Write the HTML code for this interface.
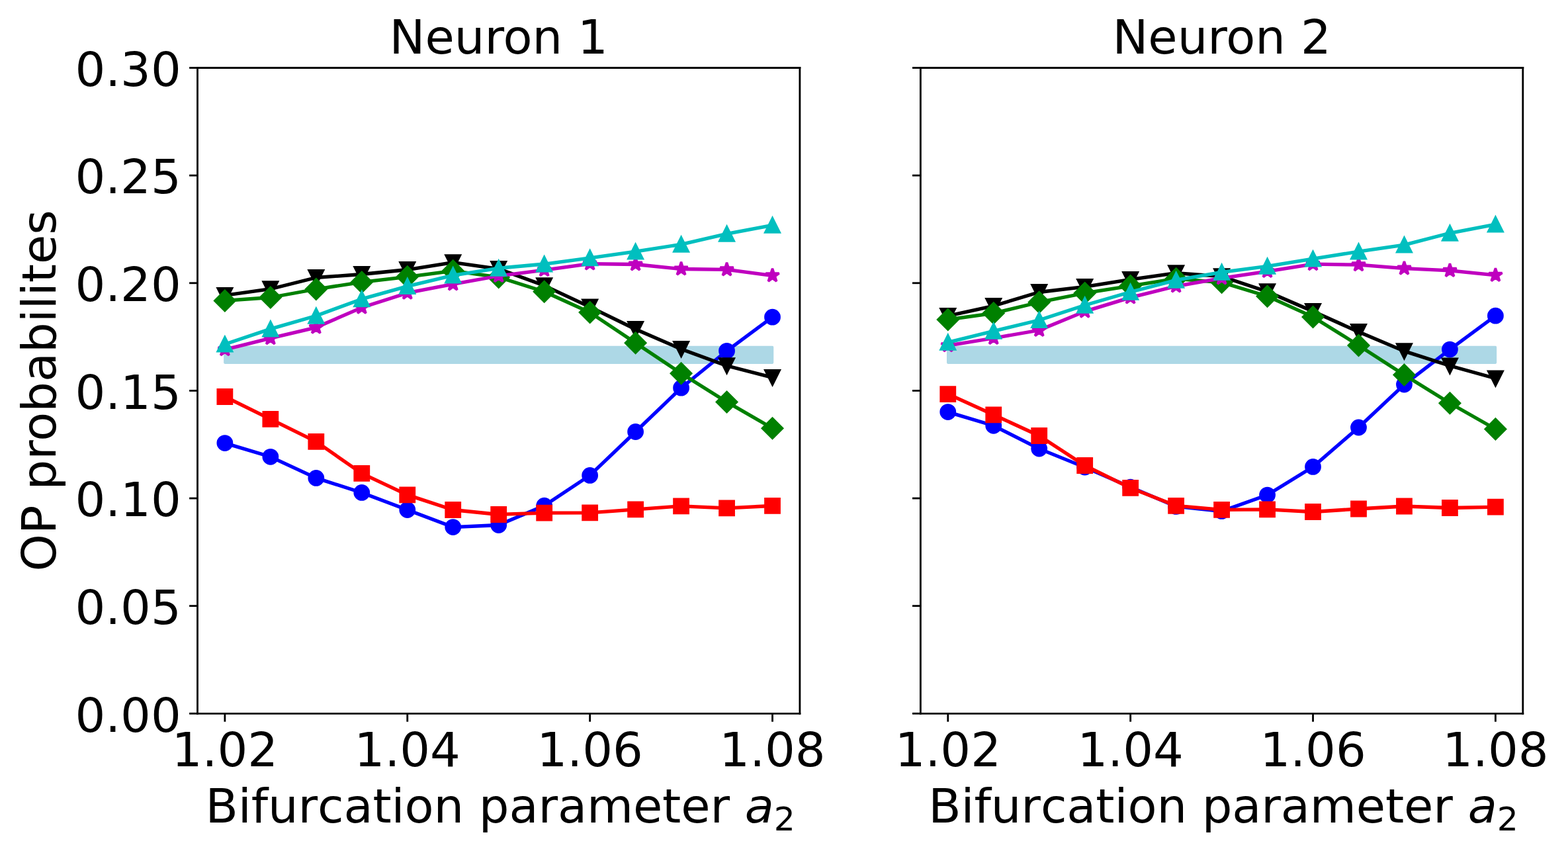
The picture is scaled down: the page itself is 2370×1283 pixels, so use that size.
<!DOCTYPE html>
<html><head><meta charset="utf-8"><title>OP probabilities</title>
<style>html,body{margin:0;padding:0;background:#fff;width:2370px;height:1283px;overflow:hidden}svg{display:block}svg *{stroke-linejoin:round;stroke-linecap:butt}</style>
</head><body>
<svg width="2370" height="1283" viewBox="0 0 2370 1283" version="1.1"><g><g><path d="M 0 1283 L 2370 1283 L 2370 0 L 0 0 z" style="fill: #ffffff" /></g><g><g><path d="M 298.5 1078.3 L 1208.9 1078.3 L 1208.9 102.5 L 298.5 102.5 z" style="fill: #ffffff" /></g><g><g><path d="M 339.881818 -758.36892 L 339.881818 -734.884667 L 1167.518182 -734.884667 L 1167.518182 -758.36892 L 1167.518182 -758.36892 L 339.881818 -758.36892 z" transform="translate(0 1283)" style="fill: #add8e6; stroke: #add8e6; stroke-width: 3.54" /></g></g><g><g><g><g><path d="M 0 0 L 0 12.39" transform="translate(339.882 1078.3)" style="stroke: #000000; stroke-width: 2.832" /></g></g><g><text style="font-size: 72px; font-family: 'DejaVu Sans', 'Liberation Sans', sans-serif; text-anchor: middle" x="339.881818" y="1158.24">1.02</text></g></g><g><g><g><path d="M 0 0 L 0 12.39" transform="translate(615.761 1078.3)" style="stroke: #000000; stroke-width: 2.832" /></g></g><g><text style="font-size: 72px; font-family: 'DejaVu Sans', 'Liberation Sans', sans-serif; text-anchor: middle" x="615.760606" y="1158.24">1.04</text></g></g><g><g><g><path d="M 0 0 L 0 12.39" transform="translate(891.639 1078.3)" style="stroke: #000000; stroke-width: 2.832" /></g></g><g><text style="font-size: 72px; font-family: 'DejaVu Sans', 'Liberation Sans', sans-serif; text-anchor: middle" x="891.639394" y="1158.24">1.06</text></g></g><g><g><g><path d="M 0 0 L 0 12.39" transform="translate(1167.52 1078.3)" style="stroke: #000000; stroke-width: 2.832" /></g></g><g><text style="font-size: 72px; font-family: 'DejaVu Sans', 'Liberation Sans', sans-serif; text-anchor: middle" x="1167.518182" y="1158.24">1.08</text></g></g><g><text style="font-size: 72px; font-family: 'DejaVu Sans', 'Liberation Sans', sans-serif" x="310.46 359.72 379.67 404.95 450.46 479.98 519.46 563.46 591.62 611.57 655.50 701.01 723.84 769.42 813.42 842.94 886.94 956.89 1001.07 1029.22 1073.40 1102.92" y="1243.35">Bifurcation parameter <tspan x="1125.75" style="font-style: oblique">a</tspan><tspan x="1169.87" y="1255.16" style="font-size: 50.4px">2</tspan></text></g></g><g><g><g><g><path d="M 0 0 L -12.39 0" transform="translate(298.5 1078.3)" style="stroke: #000000; stroke-width: 2.832" /></g></g><g><text style="font-size: 72px; font-family: 'DejaVu Sans', 'Liberation Sans', sans-serif; text-anchor: end" x="273.72" y="1105.654375">0.00</text></g></g><g><g><g><path d="M 0 0 L -12.39 0" transform="translate(298.5 915.667)" style="stroke: #000000; stroke-width: 2.832" /></g></g><g><text style="font-size: 72px; font-family: 'DejaVu Sans', 'Liberation Sans', sans-serif; text-anchor: end" x="273.72" y="943.021042">0.05</text></g></g><g><g><g><path d="M 0 0 L -12.39 0" transform="translate(298.5 753.033)" style="stroke: #000000; stroke-width: 2.832" /></g></g><g><text style="font-size: 72px; font-family: 'DejaVu Sans', 'Liberation Sans', sans-serif; text-anchor: end" x="273.72" y="780.387708">0.10</text></g></g><g><g><g><path d="M 0 0 L -12.39 0" transform="translate(298.5 590.4)" style="stroke: #000000; stroke-width: 2.832" /></g></g><g><text style="font-size: 72px; font-family: 'DejaVu Sans', 'Liberation Sans', sans-serif; text-anchor: end" x="273.72" y="617.754375">0.15</text></g></g><g><g><g><path d="M 0 0 L -12.39 0" transform="translate(298.5 427.767)" style="stroke: #000000; stroke-width: 2.832" /></g></g><g><text style="font-size: 72px; font-family: 'DejaVu Sans', 'Liberation Sans', sans-serif; text-anchor: end" x="273.72" y="455.121042">0.20</text></g></g><g><g><g><path d="M 0 0 L -12.39 0" transform="translate(298.5 265.133)" style="stroke: #000000; stroke-width: 2.832" /></g></g><g><text style="font-size: 72px; font-family: 'DejaVu Sans', 'Liberation Sans', sans-serif; text-anchor: end" x="273.72" y="292.487708">0.25</text></g></g><g><g><g><path d="M 0 0 L -12.39 0" transform="translate(298.5 102.5)" style="stroke: #000000; stroke-width: 2.832" /></g></g><g><text style="font-size: 72px; font-family: 'DejaVu Sans', 'Liberation Sans', sans-serif; text-anchor: end" x="273.72" y="129.854375">0.30</text></g></g><g><text style="font-size: 72px; font-family: 'DejaVu Sans', 'Liberation Sans', sans-serif; text-anchor: middle" x="84.27375" y="590.4" transform="rotate(-90 84.27375 590.4)">OP probabilites</text></g></g><g><path d="M 339.881818 669.602433 L 408.851515 690.289393 L 477.821212 722.393213 L 546.790909 744.413767 L 615.760606 770.500153 L 684.730303 796.58654 L 753.7 793.496507 L 822.669697 764.18998 L 891.639394 718.392433 L 960.609091 652.493407 L 1029.578788 586.20406 L 1098.548485 530.29072 L 1167.518182 479.191327" style="fill: none; stroke: #0000ff; stroke-width: 5.31; stroke-linecap: square" /><g><path d="M 0 10.62 C 2.816457 10.62 5.517938 9.50101 7.509474 7.509474 C 9.50101 5.517938 10.62 2.816457 10.62 0 C 10.62 -2.816457 9.50101 -5.517938 7.509474 -7.509474 C 5.517938 -9.50101 2.816457 -10.62 0 -10.62 C -2.816457 -10.62 -5.517938 -9.50101 -7.509474 -7.509474 C -9.50101 -5.517938 -10.62 -2.816457 -10.62 0 C -10.62 2.816457 -9.50101 5.517938 -7.509474 7.509474 C -5.517938 9.50101 -2.816457 10.62 0 10.62 z" transform="translate(339.882 669.602)" style="fill: #0000ff; stroke: #0000ff; stroke-width: 3.54" /><path d="M 0 10.62 C 2.816457 10.62 5.517938 9.50101 7.509474 7.509474 C 9.50101 5.517938 10.62 2.816457 10.62 0 C 10.62 -2.816457 9.50101 -5.517938 7.509474 -7.509474 C 5.517938 -9.50101 2.816457 -10.62 0 -10.62 C -2.816457 -10.62 -5.517938 -9.50101 -7.509474 -7.509474 C -9.50101 -5.517938 -10.62 -2.816457 -10.62 0 C -10.62 2.816457 -9.50101 5.517938 -7.509474 7.509474 C -5.517938 9.50101 -2.816457 10.62 0 10.62 z" transform="translate(408.852 690.289)" style="fill: #0000ff; stroke: #0000ff; stroke-width: 3.54" /><path d="M 0 10.62 C 2.816457 10.62 5.517938 9.50101 7.509474 7.509474 C 9.50101 5.517938 10.62 2.816457 10.62 0 C 10.62 -2.816457 9.50101 -5.517938 7.509474 -7.509474 C 5.517938 -9.50101 2.816457 -10.62 0 -10.62 C -2.816457 -10.62 -5.517938 -9.50101 -7.509474 -7.509474 C -9.50101 -5.517938 -10.62 -2.816457 -10.62 0 C -10.62 2.816457 -9.50101 5.517938 -7.509474 7.509474 C -5.517938 9.50101 -2.816457 10.62 0 10.62 z" transform="translate(477.821 722.393)" style="fill: #0000ff; stroke: #0000ff; stroke-width: 3.54" /><path d="M 0 10.62 C 2.816457 10.62 5.517938 9.50101 7.509474 7.509474 C 9.50101 5.517938 10.62 2.816457 10.62 0 C 10.62 -2.816457 9.50101 -5.517938 7.509474 -7.509474 C 5.517938 -9.50101 2.816457 -10.62 0 -10.62 C -2.816457 -10.62 -5.517938 -9.50101 -7.509474 -7.509474 C -9.50101 -5.517938 -10.62 -2.816457 -10.62 0 C -10.62 2.816457 -9.50101 5.517938 -7.509474 7.509474 C -5.517938 9.50101 -2.816457 10.62 0 10.62 z" transform="translate(546.791 744.414)" style="fill: #0000ff; stroke: #0000ff; stroke-width: 3.54" /><path d="M 0 10.62 C 2.816457 10.62 5.517938 9.50101 7.509474 7.509474 C 9.50101 5.517938 10.62 2.816457 10.62 0 C 10.62 -2.816457 9.50101 -5.517938 7.509474 -7.509474 C 5.517938 -9.50101 2.816457 -10.62 0 -10.62 C -2.816457 -10.62 -5.517938 -9.50101 -7.509474 -7.509474 C -9.50101 -5.517938 -10.62 -2.816457 -10.62 0 C -10.62 2.816457 -9.50101 5.517938 -7.509474 7.509474 C -5.517938 9.50101 -2.816457 10.62 0 10.62 z" transform="translate(615.761 770.5)" style="fill: #0000ff; stroke: #0000ff; stroke-width: 3.54" /><path d="M 0 10.62 C 2.816457 10.62 5.517938 9.50101 7.509474 7.509474 C 9.50101 5.517938 10.62 2.816457 10.62 0 C 10.62 -2.816457 9.50101 -5.517938 7.509474 -7.509474 C 5.517938 -9.50101 2.816457 -10.62 0 -10.62 C -2.816457 -10.62 -5.517938 -9.50101 -7.509474 -7.509474 C -9.50101 -5.517938 -10.62 -2.816457 -10.62 0 C -10.62 2.816457 -9.50101 5.517938 -7.509474 7.509474 C -5.517938 9.50101 -2.816457 10.62 0 10.62 z" transform="translate(684.73 796.587)" style="fill: #0000ff; stroke: #0000ff; stroke-width: 3.54" /><path d="M 0 10.62 C 2.816457 10.62 5.517938 9.50101 7.509474 7.509474 C 9.50101 5.517938 10.62 2.816457 10.62 0 C 10.62 -2.816457 9.50101 -5.517938 7.509474 -7.509474 C 5.517938 -9.50101 2.816457 -10.62 0 -10.62 C -2.816457 -10.62 -5.517938 -9.50101 -7.509474 -7.509474 C -9.50101 -5.517938 -10.62 -2.816457 -10.62 0 C -10.62 2.816457 -9.50101 5.517938 -7.509474 7.509474 C -5.517938 9.50101 -2.816457 10.62 0 10.62 z" transform="translate(753.7 793.497)" style="fill: #0000ff; stroke: #0000ff; stroke-width: 3.54" /><path d="M 0 10.62 C 2.816457 10.62 5.517938 9.50101 7.509474 7.509474 C 9.50101 5.517938 10.62 2.816457 10.62 0 C 10.62 -2.816457 9.50101 -5.517938 7.509474 -7.509474 C 5.517938 -9.50101 2.816457 -10.62 0 -10.62 C -2.816457 -10.62 -5.517938 -9.50101 -7.509474 -7.509474 C -9.50101 -5.517938 -10.62 -2.816457 -10.62 0 C -10.62 2.816457 -9.50101 5.517938 -7.509474 7.509474 C -5.517938 9.50101 -2.816457 10.62 0 10.62 z" transform="translate(822.67 764.19)" style="fill: #0000ff; stroke: #0000ff; stroke-width: 3.54" /><path d="M 0 10.62 C 2.816457 10.62 5.517938 9.50101 7.509474 7.509474 C 9.50101 5.517938 10.62 2.816457 10.62 0 C 10.62 -2.816457 9.50101 -5.517938 7.509474 -7.509474 C 5.517938 -9.50101 2.816457 -10.62 0 -10.62 C -2.816457 -10.62 -5.517938 -9.50101 -7.509474 -7.509474 C -9.50101 -5.517938 -10.62 -2.816457 -10.62 0 C -10.62 2.816457 -9.50101 5.517938 -7.509474 7.509474 C -5.517938 9.50101 -2.816457 10.62 0 10.62 z" transform="translate(891.639 718.392)" style="fill: #0000ff; stroke: #0000ff; stroke-width: 3.54" /><path d="M 0 10.62 C 2.816457 10.62 5.517938 9.50101 7.509474 7.509474 C 9.50101 5.517938 10.62 2.816457 10.62 0 C 10.62 -2.816457 9.50101 -5.517938 7.509474 -7.509474 C 5.517938 -9.50101 2.816457 -10.62 0 -10.62 C -2.816457 -10.62 -5.517938 -9.50101 -7.509474 -7.509474 C -9.50101 -5.517938 -10.62 -2.816457 -10.62 0 C -10.62 2.816457 -9.50101 5.517938 -7.509474 7.509474 C -5.517938 9.50101 -2.816457 10.62 0 10.62 z" transform="translate(960.609 652.493)" style="fill: #0000ff; stroke: #0000ff; stroke-width: 3.54" /><path d="M 0 10.62 C 2.816457 10.62 5.517938 9.50101 7.509474 7.509474 C 9.50101 5.517938 10.62 2.816457 10.62 0 C 10.62 -2.816457 9.50101 -5.517938 7.509474 -7.509474 C 5.517938 -9.50101 2.816457 -10.62 0 -10.62 C -2.816457 -10.62 -5.517938 -9.50101 -7.509474 -7.509474 C -9.50101 -5.517938 -10.62 -2.816457 -10.62 0 C -10.62 2.816457 -9.50101 5.517938 -7.509474 7.509474 C -5.517938 9.50101 -2.816457 10.62 0 10.62 z" transform="translate(1029.58 586.204)" style="fill: #0000ff; stroke: #0000ff; stroke-width: 3.54" /><path d="M 0 10.62 C 2.816457 10.62 5.517938 9.50101 7.509474 7.509474 C 9.50101 5.517938 10.62 2.816457 10.62 0 C 10.62 -2.816457 9.50101 -5.517938 7.509474 -7.509474 C 5.517938 -9.50101 2.816457 -10.62 0 -10.62 C -2.816457 -10.62 -5.517938 -9.50101 -7.509474 -7.509474 C -9.50101 -5.517938 -10.62 -2.816457 -10.62 0 C -10.62 2.816457 -9.50101 5.517938 -7.509474 7.509474 C -5.517938 9.50101 -2.816457 10.62 0 10.62 z" transform="translate(1098.55 530.291)" style="fill: #0000ff; stroke: #0000ff; stroke-width: 3.54" /><path d="M 0 10.62 C 2.816457 10.62 5.517938 9.50101 7.509474 7.509474 C 9.50101 5.517938 10.62 2.816457 10.62 0 C 10.62 -2.816457 9.50101 -5.517938 7.509474 -7.509474 C 5.517938 -9.50101 2.816457 -10.62 0 -10.62 C -2.816457 -10.62 -5.517938 -9.50101 -7.509474 -7.509474 C -9.50101 -5.517938 -10.62 -2.816457 -10.62 0 C -10.62 2.816457 -9.50101 5.517938 -7.509474 7.509474 C -5.517938 9.50101 -2.816457 10.62 0 10.62 z" transform="translate(1167.52 479.191)" style="fill: #0000ff; stroke: #0000ff; stroke-width: 3.54" /></g></g><g><path d="M 339.881818 599.507467 L 408.851515 633.302673 L 477.821212 667.39062 L 546.790909 715.39998 L 615.760606 747.89412 L 684.730303 770.500153 L 753.7 777.493387 L 822.669697 775.086413 L 891.639394 774.891253 L 960.609091 769.914673 L 1029.578788 764.807987 L 1098.548485 767.80044 L 1167.518182 764.38514" style="fill: none; stroke: #ff0000; stroke-width: 5.31; stroke-linecap: square" /><g><path d="M -10.62 10.62 L 10.62 10.62 L 10.62 -10.62 L -10.62 -10.62 z" transform="translate(339.882 599.507)" style="fill: #ff0000; stroke: #ff0000; stroke-width: 3.54; stroke-linejoin: miter" /><path d="M -10.62 10.62 L 10.62 10.62 L 10.62 -10.62 L -10.62 -10.62 z" transform="translate(408.852 633.303)" style="fill: #ff0000; stroke: #ff0000; stroke-width: 3.54; stroke-linejoin: miter" /><path d="M -10.62 10.62 L 10.62 10.62 L 10.62 -10.62 L -10.62 -10.62 z" transform="translate(477.821 667.391)" style="fill: #ff0000; stroke: #ff0000; stroke-width: 3.54; stroke-linejoin: miter" /><path d="M -10.62 10.62 L 10.62 10.62 L 10.62 -10.62 L -10.62 -10.62 z" transform="translate(546.791 715.4)" style="fill: #ff0000; stroke: #ff0000; stroke-width: 3.54; stroke-linejoin: miter" /><path d="M -10.62 10.62 L 10.62 10.62 L 10.62 -10.62 L -10.62 -10.62 z" transform="translate(615.761 747.894)" style="fill: #ff0000; stroke: #ff0000; stroke-width: 3.54; stroke-linejoin: miter" /><path d="M -10.62 10.62 L 10.62 10.62 L 10.62 -10.62 L -10.62 -10.62 z" transform="translate(684.73 770.5)" style="fill: #ff0000; stroke: #ff0000; stroke-width: 3.54; stroke-linejoin: miter" /><path d="M -10.62 10.62 L 10.62 10.62 L 10.62 -10.62 L -10.62 -10.62 z" transform="translate(753.7 777.493)" style="fill: #ff0000; stroke: #ff0000; stroke-width: 3.54; stroke-linejoin: miter" /><path d="M -10.62 10.62 L 10.62 10.62 L 10.62 -10.62 L -10.62 -10.62 z" transform="translate(822.67 775.086)" style="fill: #ff0000; stroke: #ff0000; stroke-width: 3.54; stroke-linejoin: miter" /><path d="M -10.62 10.62 L 10.62 10.62 L 10.62 -10.62 L -10.62 -10.62 z" transform="translate(891.639 774.891)" style="fill: #ff0000; stroke: #ff0000; stroke-width: 3.54; stroke-linejoin: miter" /><path d="M -10.62 10.62 L 10.62 10.62 L 10.62 -10.62 L -10.62 -10.62 z" transform="translate(960.609 769.915)" style="fill: #ff0000; stroke: #ff0000; stroke-width: 3.54; stroke-linejoin: miter" /><path d="M -10.62 10.62 L 10.62 10.62 L 10.62 -10.62 L -10.62 -10.62 z" transform="translate(1029.58 764.808)" style="fill: #ff0000; stroke: #ff0000; stroke-width: 3.54; stroke-linejoin: miter" /><path d="M -10.62 10.62 L 10.62 10.62 L 10.62 -10.62 L -10.62 -10.62 z" transform="translate(1098.55 767.8)" style="fill: #ff0000; stroke: #ff0000; stroke-width: 3.54; stroke-linejoin: miter" /><path d="M -10.62 10.62 L 10.62 10.62 L 10.62 -10.62 L -10.62 -10.62 z" transform="translate(1167.52 764.385)" style="fill: #ff0000; stroke: #ff0000; stroke-width: 3.54; stroke-linejoin: miter" /></g></g><g><path d="M 339.881818 446.306867 L 408.851515 436.7115 L 477.821212 419.504893 L 546.790909 414.495787 L 615.760606 407.502553 L 684.730303 396.60612 L 753.7 406.396647 L 822.669697 431.604813 L 891.639394 463.903793 L 960.609091 497.50384 L 1029.578788 527.493427 L 1098.548485 552.701593 L 1167.518182 570.49368" style="fill: none; stroke: #000000; stroke-width: 5.31; stroke-linecap: square" /><g><path d="M -0 10.62 L 10.62 -10.62 L -10.62 -10.62 z" transform="translate(339.882 446.307)" style="stroke: #000000; stroke-width: 3.54; stroke-linejoin: miter" /><path d="M -0 10.62 L 10.62 -10.62 L -10.62 -10.62 z" transform="translate(408.852 436.712)" style="stroke: #000000; stroke-width: 3.54; stroke-linejoin: miter" /><path d="M -0 10.62 L 10.62 -10.62 L -10.62 -10.62 z" transform="translate(477.821 419.505)" style="stroke: #000000; stroke-width: 3.54; stroke-linejoin: miter" /><path d="M -0 10.62 L 10.62 -10.62 L -10.62 -10.62 z" transform="translate(546.791 414.496)" style="stroke: #000000; stroke-width: 3.54; stroke-linejoin: miter" /><path d="M -0 10.62 L 10.62 -10.62 L -10.62 -10.62 z" transform="translate(615.761 407.503)" style="stroke: #000000; stroke-width: 3.54; stroke-linejoin: miter" /><path d="M -0 10.62 L 10.62 -10.62 L -10.62 -10.62 z" transform="translate(684.73 396.606)" style="stroke: #000000; stroke-width: 3.54; stroke-linejoin: miter" /><path d="M -0 10.62 L 10.62 -10.62 L -10.62 -10.62 z" transform="translate(753.7 406.397)" style="stroke: #000000; stroke-width: 3.54; stroke-linejoin: miter" /><path d="M -0 10.62 L 10.62 -10.62 L -10.62 -10.62 z" transform="translate(822.67 431.605)" style="stroke: #000000; stroke-width: 3.54; stroke-linejoin: miter" /><path d="M -0 10.62 L 10.62 -10.62 L -10.62 -10.62 z" transform="translate(891.639 463.904)" style="stroke: #000000; stroke-width: 3.54; stroke-linejoin: miter" /><path d="M -0 10.62 L 10.62 -10.62 L -10.62 -10.62 z" transform="translate(960.609 497.504)" style="stroke: #000000; stroke-width: 3.54; stroke-linejoin: miter" /><path d="M -0 10.62 L 10.62 -10.62 L -10.62 -10.62 z" transform="translate(1029.58 527.493)" style="stroke: #000000; stroke-width: 3.54; stroke-linejoin: miter" /><path d="M -0 10.62 L 10.62 -10.62 L -10.62 -10.62 z" transform="translate(1098.55 552.702)" style="stroke: #000000; stroke-width: 3.54; stroke-linejoin: miter" /><path d="M -0 10.62 L 10.62 -10.62 L -10.62 -10.62 z" transform="translate(1167.52 570.494)" style="stroke: #000000; stroke-width: 3.54; stroke-linejoin: miter" /></g></g><g><path d="M 339.881818 454.406007 L 408.851515 449.49448 L 477.821212 437.00424 L 546.790909 426.400547 L 615.760606 418.301407 L 684.730303 409.3891 L 753.7 418.886887 L 822.669697 440.71228 L 891.639394 472.100513 L 960.609091 518.1908 L 1029.578788 564.216033 L 1098.548485 607.411447 L 1167.518182 647.19156" style="fill: none; stroke: #008000; stroke-width: 5.31; stroke-linecap: square" /><g><path d="M -0 15.018948 L 15.018948 0 L 0 -15.018948 L -15.018948 -0 z" transform="translate(339.882 454.406)" style="fill: #008000; stroke: #008000; stroke-width: 3.54; stroke-linejoin: miter" /><path d="M -0 15.018948 L 15.018948 0 L 0 -15.018948 L -15.018948 -0 z" transform="translate(408.852 449.494)" style="fill: #008000; stroke: #008000; stroke-width: 3.54; stroke-linejoin: miter" /><path d="M -0 15.018948 L 15.018948 0 L 0 -15.018948 L -15.018948 -0 z" transform="translate(477.821 437.004)" style="fill: #008000; stroke: #008000; stroke-width: 3.54; stroke-linejoin: miter" /><path d="M -0 15.018948 L 15.018948 0 L 0 -15.018948 L -15.018948 -0 z" transform="translate(546.791 426.401)" style="fill: #008000; stroke: #008000; stroke-width: 3.54; stroke-linejoin: miter" /><path d="M -0 15.018948 L 15.018948 0 L 0 -15.018948 L -15.018948 -0 z" transform="translate(615.761 418.301)" style="fill: #008000; stroke: #008000; stroke-width: 3.54; stroke-linejoin: miter" /><path d="M -0 15.018948 L 15.018948 0 L 0 -15.018948 L -15.018948 -0 z" transform="translate(684.73 409.389)" style="fill: #008000; stroke: #008000; stroke-width: 3.54; stroke-linejoin: miter" /><path d="M -0 15.018948 L 15.018948 0 L 0 -15.018948 L -15.018948 -0 z" transform="translate(753.7 418.887)" style="fill: #008000; stroke: #008000; stroke-width: 3.54; stroke-linejoin: miter" /><path d="M -0 15.018948 L 15.018948 0 L 0 -15.018948 L -15.018948 -0 z" transform="translate(822.67 440.712)" style="fill: #008000; stroke: #008000; stroke-width: 3.54; stroke-linejoin: miter" /><path d="M -0 15.018948 L 15.018948 0 L 0 -15.018948 L -15.018948 -0 z" transform="translate(891.639 472.101)" style="fill: #008000; stroke: #008000; stroke-width: 3.54; stroke-linejoin: miter" /><path d="M -0 15.018948 L 15.018948 0 L 0 -15.018948 L -15.018948 -0 z" transform="translate(960.609 518.191)" style="fill: #008000; stroke: #008000; stroke-width: 3.54; stroke-linejoin: miter" /><path d="M -0 15.018948 L 15.018948 0 L 0 -15.018948 L -15.018948 -0 z" transform="translate(1029.58 564.216)" style="fill: #008000; stroke: #008000; stroke-width: 3.54; stroke-linejoin: miter" /><path d="M -0 15.018948 L 15.018948 0 L 0 -15.018948 L -15.018948 -0 z" transform="translate(1098.55 607.411)" style="fill: #008000; stroke: #008000; stroke-width: 3.54; stroke-linejoin: miter" /><path d="M -0 15.018948 L 15.018948 0 L 0 -15.018948 L -15.018948 -0 z" transform="translate(1167.52 647.192)" style="fill: #008000; stroke: #008000; stroke-width: 3.54; stroke-linejoin: miter" /></g></g><g><path d="M 339.881818 528.306593 L 408.851515 511.197567 L 477.821212 494.804127 L 546.790909 464.81454 L 615.760606 442.696407 L 684.730303 429.393 L 753.7 417.00034 L 822.669697 408.088033 L 891.639394 398.590247 L 960.609091 399.500993 L 1029.578788 406.494227 L 1098.548485 407.404973 L 1167.518182 416.41486" style="fill: none; stroke: #bf00bf; stroke-width: 5.31; stroke-linecap: square" /><g><path d="M 0 -10.62 L -2.384338 -3.28176 L -10.10022 -3.28176 L -3.857941 1.253521 L -6.242279 8.59176 L -0 4.056479 L 6.242279 8.59176 L 3.857941 1.253521 L 10.10022 -3.28176 L 2.384338 -3.28176 z" transform="translate(339.882 528.307)" style="fill: #bf00bf; stroke: #bf00bf; stroke-width: 3.54; stroke-linejoin: bevel" /><path d="M 0 -10.62 L -2.384338 -3.28176 L -10.10022 -3.28176 L -3.857941 1.253521 L -6.242279 8.59176 L -0 4.056479 L 6.242279 8.59176 L 3.857941 1.253521 L 10.10022 -3.28176 L 2.384338 -3.28176 z" transform="translate(408.852 511.198)" style="fill: #bf00bf; stroke: #bf00bf; stroke-width: 3.54; stroke-linejoin: bevel" /><path d="M 0 -10.62 L -2.384338 -3.28176 L -10.10022 -3.28176 L -3.857941 1.253521 L -6.242279 8.59176 L -0 4.056479 L 6.242279 8.59176 L 3.857941 1.253521 L 10.10022 -3.28176 L 2.384338 -3.28176 z" transform="translate(477.821 494.804)" style="fill: #bf00bf; stroke: #bf00bf; stroke-width: 3.54; stroke-linejoin: bevel" /><path d="M 0 -10.62 L -2.384338 -3.28176 L -10.10022 -3.28176 L -3.857941 1.253521 L -6.242279 8.59176 L -0 4.056479 L 6.242279 8.59176 L 3.857941 1.253521 L 10.10022 -3.28176 L 2.384338 -3.28176 z" transform="translate(546.791 464.815)" style="fill: #bf00bf; stroke: #bf00bf; stroke-width: 3.54; stroke-linejoin: bevel" /><path d="M 0 -10.62 L -2.384338 -3.28176 L -10.10022 -3.28176 L -3.857941 1.253521 L -6.242279 8.59176 L -0 4.056479 L 6.242279 8.59176 L 3.857941 1.253521 L 10.10022 -3.28176 L 2.384338 -3.28176 z" transform="translate(615.761 442.696)" style="fill: #bf00bf; stroke: #bf00bf; stroke-width: 3.54; stroke-linejoin: bevel" /><path d="M 0 -10.62 L -2.384338 -3.28176 L -10.10022 -3.28176 L -3.857941 1.253521 L -6.242279 8.59176 L -0 4.056479 L 6.242279 8.59176 L 3.857941 1.253521 L 10.10022 -3.28176 L 2.384338 -3.28176 z" transform="translate(684.73 429.393)" style="fill: #bf00bf; stroke: #bf00bf; stroke-width: 3.54; stroke-linejoin: bevel" /><path d="M 0 -10.62 L -2.384338 -3.28176 L -10.10022 -3.28176 L -3.857941 1.253521 L -6.242279 8.59176 L -0 4.056479 L 6.242279 8.59176 L 3.857941 1.253521 L 10.10022 -3.28176 L 2.384338 -3.28176 z" transform="translate(753.7 417)" style="fill: #bf00bf; stroke: #bf00bf; stroke-width: 3.54; stroke-linejoin: bevel" /><path d="M 0 -10.62 L -2.384338 -3.28176 L -10.10022 -3.28176 L -3.857941 1.253521 L -6.242279 8.59176 L -0 4.056479 L 6.242279 8.59176 L 3.857941 1.253521 L 10.10022 -3.28176 L 2.384338 -3.28176 z" transform="translate(822.67 408.088)" style="fill: #bf00bf; stroke: #bf00bf; stroke-width: 3.54; stroke-linejoin: bevel" /><path d="M 0 -10.62 L -2.384338 -3.28176 L -10.10022 -3.28176 L -3.857941 1.253521 L -6.242279 8.59176 L -0 4.056479 L 6.242279 8.59176 L 3.857941 1.253521 L 10.10022 -3.28176 L 2.384338 -3.28176 z" transform="translate(891.639 398.59)" style="fill: #bf00bf; stroke: #bf00bf; stroke-width: 3.54; stroke-linejoin: bevel" /><path d="M 0 -10.62 L -2.384338 -3.28176 L -10.10022 -3.28176 L -3.857941 1.253521 L -6.242279 8.59176 L -0 4.056479 L 6.242279 8.59176 L 3.857941 1.253521 L 10.10022 -3.28176 L 2.384338 -3.28176 z" transform="translate(960.609 399.501)" style="fill: #bf00bf; stroke: #bf00bf; stroke-width: 3.54; stroke-linejoin: bevel" /><path d="M 0 -10.62 L -2.384338 -3.28176 L -10.10022 -3.28176 L -3.857941 1.253521 L -6.242279 8.59176 L -0 4.056479 L 6.242279 8.59176 L 3.857941 1.253521 L 10.10022 -3.28176 L 2.384338 -3.28176 z" transform="translate(1029.58 406.494)" style="fill: #bf00bf; stroke: #bf00bf; stroke-width: 3.54; stroke-linejoin: bevel" /><path d="M 0 -10.62 L -2.384338 -3.28176 L -10.10022 -3.28176 L -3.857941 1.253521 L -6.242279 8.59176 L -0 4.056479 L 6.242279 8.59176 L 3.857941 1.253521 L 10.10022 -3.28176 L 2.384338 -3.28176 z" transform="translate(1098.55 407.405)" style="fill: #bf00bf; stroke: #bf00bf; stroke-width: 3.54; stroke-linejoin: bevel" /><path d="M 0 -10.62 L -2.384338 -3.28176 L -10.10022 -3.28176 L -3.857941 1.253521 L -6.242279 8.59176 L -0 4.056479 L 6.242279 8.59176 L 3.857941 1.253521 L 10.10022 -3.28176 L 2.384338 -3.28176 z" transform="translate(1167.52 416.415)" style="fill: #bf00bf; stroke: #bf00bf; stroke-width: 3.54; stroke-linejoin: bevel" /></g></g><g><path d="M 339.881818 520.207453 L 408.851515 497.11352 L 477.821212 477.30478 L 546.790909 451.901453 L 615.760606 432.61314 L 684.730303 416.187173 L 753.7 405.29074 L 822.669697 399.013093 L 891.639394 389.905627 L 960.609091 380.21268 L 1029.578788 369.316247 L 1098.548485 353.410707 L 1167.518182 340.30246" style="fill: none; stroke: #00bfbf; stroke-width: 5.31; stroke-linecap: square" /><g><path d="M 0 -10.62 L -10.62 10.62 L 10.62 10.62 z" transform="translate(339.882 520.207)" style="fill: #00bfbf; stroke: #00bfbf; stroke-width: 3.54; stroke-linejoin: miter" /><path d="M 0 -10.62 L -10.62 10.62 L 10.62 10.62 z" transform="translate(408.852 497.114)" style="fill: #00bfbf; stroke: #00bfbf; stroke-width: 3.54; stroke-linejoin: miter" /><path d="M 0 -10.62 L -10.62 10.62 L 10.62 10.62 z" transform="translate(477.821 477.305)" style="fill: #00bfbf; stroke: #00bfbf; stroke-width: 3.54; stroke-linejoin: miter" /><path d="M 0 -10.62 L -10.62 10.62 L 10.62 10.62 z" transform="translate(546.791 451.901)" style="fill: #00bfbf; stroke: #00bfbf; stroke-width: 3.54; stroke-linejoin: miter" /><path d="M 0 -10.62 L -10.62 10.62 L 10.62 10.62 z" transform="translate(615.761 432.613)" style="fill: #00bfbf; stroke: #00bfbf; stroke-width: 3.54; stroke-linejoin: miter" /><path d="M 0 -10.62 L -10.62 10.62 L 10.62 10.62 z" transform="translate(684.73 416.187)" style="fill: #00bfbf; stroke: #00bfbf; stroke-width: 3.54; stroke-linejoin: miter" /><path d="M 0 -10.62 L -10.62 10.62 L 10.62 10.62 z" transform="translate(753.7 405.291)" style="fill: #00bfbf; stroke: #00bfbf; stroke-width: 3.54; stroke-linejoin: miter" /><path d="M 0 -10.62 L -10.62 10.62 L 10.62 10.62 z" transform="translate(822.67 399.013)" style="fill: #00bfbf; stroke: #00bfbf; stroke-width: 3.54; stroke-linejoin: miter" /><path d="M 0 -10.62 L -10.62 10.62 L 10.62 10.62 z" transform="translate(891.639 389.906)" style="fill: #00bfbf; stroke: #00bfbf; stroke-width: 3.54; stroke-linejoin: miter" /><path d="M 0 -10.62 L -10.62 10.62 L 10.62 10.62 z" transform="translate(960.609 380.213)" style="fill: #00bfbf; stroke: #00bfbf; stroke-width: 3.54; stroke-linejoin: miter" /><path d="M 0 -10.62 L -10.62 10.62 L 10.62 10.62 z" transform="translate(1029.58 369.316)" style="fill: #00bfbf; stroke: #00bfbf; stroke-width: 3.54; stroke-linejoin: miter" /><path d="M 0 -10.62 L -10.62 10.62 L 10.62 10.62 z" transform="translate(1098.55 353.411)" style="fill: #00bfbf; stroke: #00bfbf; stroke-width: 3.54; stroke-linejoin: miter" /><path d="M 0 -10.62 L -10.62 10.62 L 10.62 10.62 z" transform="translate(1167.52 340.302)" style="fill: #00bfbf; stroke: #00bfbf; stroke-width: 3.54; stroke-linejoin: miter" /></g></g><g><path d="M 298.5 1078.3 L 298.5 102.5" style="fill: none; stroke: #000000; stroke-width: 2.832; stroke-linejoin: miter; stroke-linecap: square" /></g><g><path d="M 1208.9 1078.3 L 1208.9 102.5" style="fill: none; stroke: #000000; stroke-width: 2.832; stroke-linejoin: miter; stroke-linecap: square" /></g><g><path d="M 298.5 1078.3 L 1208.9 1078.3" style="fill: none; stroke: #000000; stroke-width: 2.832; stroke-linejoin: miter; stroke-linecap: square" /></g><g><path d="M 298.5 102.5 L 1208.9 102.5" style="fill: none; stroke: #000000; stroke-width: 2.832; stroke-linejoin: miter; stroke-linecap: square" /></g><g><text style="font-size: 72px; font-family: 'DejaVu Sans', 'Liberation Sans', sans-serif; text-anchor: middle" x="753.7" y="81.26">Neuron 1</text></g></g><g><g><path d="M 1391.4 1078.3 L 2301.8 1078.3 L 2301.8 102.5 L 1391.4 102.5 z" style="fill: #ffffff" /></g><g><g><path d="M 1432.781818 -758.36892 L 1432.781818 -734.884667 L 2260.418182 -734.884667 L 2260.418182 -758.36892 L 2260.418182 -758.36892 L 1432.781818 -758.36892 z" transform="translate(0 1283)" style="fill: #add8e6; stroke: #add8e6; stroke-width: 3.54" /></g></g><g><g><g><g><path d="M 0 0 L 0 12.39" transform="translate(1432.78 1078.3)" style="stroke: #000000; stroke-width: 2.832" /></g></g><g><text style="font-size: 72px; font-family: 'DejaVu Sans', 'Liberation Sans', sans-serif; text-anchor: middle" x="1432.781818" y="1158.24">1.02</text></g></g><g><g><g><path d="M 0 0 L 0 12.39" transform="translate(1708.66 1078.3)" style="stroke: #000000; stroke-width: 2.832" /></g></g><g><text style="font-size: 72px; font-family: 'DejaVu Sans', 'Liberation Sans', sans-serif; text-anchor: middle" x="1708.660606" y="1158.24">1.04</text></g></g><g><g><g><path d="M 0 0 L 0 12.39" transform="translate(1984.54 1078.3)" style="stroke: #000000; stroke-width: 2.832" /></g></g><g><text style="font-size: 72px; font-family: 'DejaVu Sans', 'Liberation Sans', sans-serif; text-anchor: middle" x="1984.539394" y="1158.24">1.06</text></g></g><g><g><g><path d="M 0 0 L 0 12.39" transform="translate(2260.42 1078.3)" style="stroke: #000000; stroke-width: 2.832" /></g></g><g><text style="font-size: 72px; font-family: 'DejaVu Sans', 'Liberation Sans', sans-serif; text-anchor: middle" x="2260.418182" y="1158.24">1.08</text></g></g><g><text style="font-size: 72px; font-family: 'DejaVu Sans', 'Liberation Sans', sans-serif" x="1403.36 1452.62 1472.57 1497.85 1543.36 1572.88 1612.36 1656.36 1684.52 1704.47 1748.40 1793.91 1816.74 1862.32 1906.32 1935.84 1979.84 2049.79 2093.97 2122.12 2166.30 2195.82" y="1243.35">Bifurcation parameter <tspan x="2218.65" style="font-style: oblique">a</tspan><tspan x="2262.77" y="1255.16" style="font-size: 50.4px">2</tspan></text></g></g><g><g><g><g><path d="M 0 0 L -12.39 0" transform="translate(1391.4 1078.3)" style="stroke: #000000; stroke-width: 2.832" /></g></g></g><g><g><g><path d="M 0 0 L -12.39 0" transform="translate(1391.4 915.667)" style="stroke: #000000; stroke-width: 2.832" /></g></g></g><g><g><g><path d="M 0 0 L -12.39 0" transform="translate(1391.4 753.033)" style="stroke: #000000; stroke-width: 2.832" /></g></g></g><g><g><g><path d="M 0 0 L -12.39 0" transform="translate(1391.4 590.4)" style="stroke: #000000; stroke-width: 2.832" /></g></g></g><g><g><g><path d="M 0 0 L -12.39 0" transform="translate(1391.4 427.767)" style="stroke: #000000; stroke-width: 2.832" /></g></g></g><g><g><g><path d="M 0 0 L -12.39 0" transform="translate(1391.4 265.133)" style="stroke: #000000; stroke-width: 2.832" /></g></g></g><g><g><g><path d="M 0 0 L -12.39 0" transform="translate(1391.4 102.5)" style="stroke: #000000; stroke-width: 2.832" /></g></g></g></g><g><path d="M 1432.781818 622.6014 L 1501.751515 643.28836 L 1570.721212 678.091893 L 1639.690909 706.097353 L 1708.660606 736.08694 L 1777.630303 765.393467 L 1846.6 772.48428 L 1915.569697 748.08928 L 1984.539394 705.414293 L 2053.509091 645.988073 L 2122.478788 581.097373 L 2191.448485 528.111433 L 2260.418182 477.2072" style="fill: none; stroke: #0000ff; stroke-width: 5.31; stroke-linecap: square" /><g><path d="M 0 10.62 C 2.816457 10.62 5.517938 9.50101 7.509474 7.509474 C 9.50101 5.517938 10.62 2.816457 10.62 0 C 10.62 -2.816457 9.50101 -5.517938 7.509474 -7.509474 C 5.517938 -9.50101 2.816457 -10.62 0 -10.62 C -2.816457 -10.62 -5.517938 -9.50101 -7.509474 -7.509474 C -9.50101 -5.517938 -10.62 -2.816457 -10.62 0 C -10.62 2.816457 -9.50101 5.517938 -7.509474 7.509474 C -5.517938 9.50101 -2.816457 10.62 0 10.62 z" transform="translate(1432.78 622.601)" style="fill: #0000ff; stroke: #0000ff; stroke-width: 3.54" /><path d="M 0 10.62 C 2.816457 10.62 5.517938 9.50101 7.509474 7.509474 C 9.50101 5.517938 10.62 2.816457 10.62 0 C 10.62 -2.816457 9.50101 -5.517938 7.509474 -7.509474 C 5.517938 -9.50101 2.816457 -10.62 0 -10.62 C -2.816457 -10.62 -5.517938 -9.50101 -7.509474 -7.509474 C -9.50101 -5.517938 -10.62 -2.816457 -10.62 0 C -10.62 2.816457 -9.50101 5.517938 -7.509474 7.509474 C -5.517938 9.50101 -2.816457 10.62 0 10.62 z" transform="translate(1501.75 643.288)" style="fill: #0000ff; stroke: #0000ff; stroke-width: 3.54" /><path d="M 0 10.62 C 2.816457 10.62 5.517938 9.50101 7.509474 7.509474 C 9.50101 5.517938 10.62 2.816457 10.62 0 C 10.62 -2.816457 9.50101 -5.517938 7.509474 -7.509474 C 5.517938 -9.50101 2.816457 -10.62 0 -10.62 C -2.816457 -10.62 -5.517938 -9.50101 -7.509474 -7.509474 C -9.50101 -5.517938 -10.62 -2.816457 -10.62 0 C -10.62 2.816457 -9.50101 5.517938 -7.509474 7.509474 C -5.517938 9.50101 -2.816457 10.62 0 10.62 z" transform="translate(1570.72 678.092)" style="fill: #0000ff; stroke: #0000ff; stroke-width: 3.54" /><path d="M 0 10.62 C 2.816457 10.62 5.517938 9.50101 7.509474 7.509474 C 9.50101 5.517938 10.62 2.816457 10.62 0 C 10.62 -2.816457 9.50101 -5.517938 7.509474 -7.509474 C 5.517938 -9.50101 2.816457 -10.62 0 -10.62 C -2.816457 -10.62 -5.517938 -9.50101 -7.509474 -7.509474 C -9.50101 -5.517938 -10.62 -2.816457 -10.62 0 C -10.62 2.816457 -9.50101 5.517938 -7.509474 7.509474 C -5.517938 9.50101 -2.816457 10.62 0 10.62 z" transform="translate(1639.69 706.097)" style="fill: #0000ff; stroke: #0000ff; stroke-width: 3.54" /><path d="M 0 10.62 C 2.816457 10.62 5.517938 9.50101 7.509474 7.509474 C 9.50101 5.517938 10.62 2.816457 10.62 0 C 10.62 -2.816457 9.50101 -5.517938 7.509474 -7.509474 C 5.517938 -9.50101 2.816457 -10.62 0 -10.62 C -2.816457 -10.62 -5.517938 -9.50101 -7.509474 -7.509474 C -9.50101 -5.517938 -10.62 -2.816457 -10.62 0 C -10.62 2.816457 -9.50101 5.517938 -7.509474 7.509474 C -5.517938 9.50101 -2.816457 10.62 0 10.62 z" transform="translate(1708.66 736.087)" style="fill: #0000ff; stroke: #0000ff; stroke-width: 3.54" /><path d="M 0 10.62 C 2.816457 10.62 5.517938 9.50101 7.509474 7.509474 C 9.50101 5.517938 10.62 2.816457 10.62 0 C 10.62 -2.816457 9.50101 -5.517938 7.509474 -7.509474 C 5.517938 -9.50101 2.816457 -10.62 0 -10.62 C -2.816457 -10.62 -5.517938 -9.50101 -7.509474 -7.509474 C -9.50101 -5.517938 -10.62 -2.816457 -10.62 0 C -10.62 2.816457 -9.50101 5.517938 -7.509474 7.509474 C -5.517938 9.50101 -2.816457 10.62 0 10.62 z" transform="translate(1777.63 765.393)" style="fill: #0000ff; stroke: #0000ff; stroke-width: 3.54" /><path d="M 0 10.62 C 2.816457 10.62 5.517938 9.50101 7.509474 7.509474 C 9.50101 5.517938 10.62 2.816457 10.62 0 C 10.62 -2.816457 9.50101 -5.517938 7.509474 -7.509474 C 5.517938 -9.50101 2.816457 -10.62 0 -10.62 C -2.816457 -10.62 -5.517938 -9.50101 -7.509474 -7.509474 C -9.50101 -5.517938 -10.62 -2.816457 -10.62 0 C -10.62 2.816457 -9.50101 5.517938 -7.509474 7.509474 C -5.517938 9.50101 -2.816457 10.62 0 10.62 z" transform="translate(1846.6 772.484)" style="fill: #0000ff; stroke: #0000ff; stroke-width: 3.54" /><path d="M 0 10.62 C 2.816457 10.62 5.517938 9.50101 7.509474 7.509474 C 9.50101 5.517938 10.62 2.816457 10.62 0 C 10.62 -2.816457 9.50101 -5.517938 7.509474 -7.509474 C 5.517938 -9.50101 2.816457 -10.62 0 -10.62 C -2.816457 -10.62 -5.517938 -9.50101 -7.509474 -7.509474 C -9.50101 -5.517938 -10.62 -2.816457 -10.62 0 C -10.62 2.816457 -9.50101 5.517938 -7.509474 7.509474 C -5.517938 9.50101 -2.816457 10.62 0 10.62 z" transform="translate(1915.57 748.089)" style="fill: #0000ff; stroke: #0000ff; stroke-width: 3.54" /><path d="M 0 10.62 C 2.816457 10.62 5.517938 9.50101 7.509474 7.509474 C 9.50101 5.517938 10.62 2.816457 10.62 0 C 10.62 -2.816457 9.50101 -5.517938 7.509474 -7.509474 C 5.517938 -9.50101 2.816457 -10.62 0 -10.62 C -2.816457 -10.62 -5.517938 -9.50101 -7.509474 -7.509474 C -9.50101 -5.517938 -10.62 -2.816457 -10.62 0 C -10.62 2.816457 -9.50101 5.517938 -7.509474 7.509474 C -5.517938 9.50101 -2.816457 10.62 0 10.62 z" transform="translate(1984.54 705.414)" style="fill: #0000ff; stroke: #0000ff; stroke-width: 3.54" /><path d="M 0 10.62 C 2.816457 10.62 5.517938 9.50101 7.509474 7.509474 C 9.50101 5.517938 10.62 2.816457 10.62 0 C 10.62 -2.816457 9.50101 -5.517938 7.509474 -7.509474 C 5.517938 -9.50101 2.816457 -10.62 0 -10.62 C -2.816457 -10.62 -5.517938 -9.50101 -7.509474 -7.509474 C -9.50101 -5.517938 -10.62 -2.816457 -10.62 0 C -10.62 2.816457 -9.50101 5.517938 -7.509474 7.509474 C -5.517938 9.50101 -2.816457 10.62 0 10.62 z" transform="translate(2053.51 645.988)" style="fill: #0000ff; stroke: #0000ff; stroke-width: 3.54" /><path d="M 0 10.62 C 2.816457 10.62 5.517938 9.50101 7.509474 7.509474 C 9.50101 5.517938 10.62 2.816457 10.62 0 C 10.62 -2.816457 9.50101 -5.517938 7.509474 -7.509474 C 5.517938 -9.50101 2.816457 -10.62 0 -10.62 C -2.816457 -10.62 -5.517938 -9.50101 -7.509474 -7.509474 C -9.50101 -5.517938 -10.62 -2.816457 -10.62 0 C -10.62 2.816457 -9.50101 5.517938 -7.509474 7.509474 C -5.517938 9.50101 -2.816457 10.62 0 10.62 z" transform="translate(2122.48 581.097)" style="fill: #0000ff; stroke: #0000ff; stroke-width: 3.54" /><path d="M 0 10.62 C 2.816457 10.62 5.517938 9.50101 7.509474 7.509474 C 9.50101 5.517938 10.62 2.816457 10.62 0 C 10.62 -2.816457 9.50101 -5.517938 7.509474 -7.509474 C 5.517938 -9.50101 2.816457 -10.62 0 -10.62 C -2.816457 -10.62 -5.517938 -9.50101 -7.509474 -7.509474 C -9.50101 -5.517938 -10.62 -2.816457 -10.62 0 C -10.62 2.816457 -9.50101 5.517938 -7.509474 7.509474 C -5.517938 9.50101 -2.816457 10.62 0 10.62 z" transform="translate(2191.45 528.111)" style="fill: #0000ff; stroke: #0000ff; stroke-width: 3.54" /><path d="M 0 10.62 C 2.816457 10.62 5.517938 9.50101 7.509474 7.509474 C 9.50101 5.517938 10.62 2.816457 10.62 0 C 10.62 -2.816457 9.50101 -5.517938 7.509474 -7.509474 C 5.517938 -9.50101 2.816457 -10.62 0 -10.62 C -2.816457 -10.62 -5.517938 -9.50101 -7.509474 -7.509474 C -9.50101 -5.517938 -10.62 -2.816457 -10.62 0 C -10.62 2.816457 -9.50101 5.517938 -7.509474 7.509474 C -5.517938 9.50101 -2.816457 10.62 0 10.62 z" transform="translate(2260.42 477.207)" style="fill: #0000ff; stroke: #0000ff; stroke-width: 3.54" /></g></g><g><path d="M 1432.781818 595.539213 L 1501.751515 626.764813 L 1570.721212 658.51084 L 1639.690909 703.49522 L 1708.660606 737.388007 L 1777.630303 764.28756 L 1846.6 770.402573 L 1915.569697 769.914673 L 1984.539394 773.492607 L 2053.509091 769.003927 L 2122.478788 765.003147 L 2191.448485 767.5077 L 2260.418182 766.109053" style="fill: none; stroke: #ff0000; stroke-width: 5.31; stroke-linecap: square" /><g><path d="M -10.62 10.62 L 10.62 10.62 L 10.62 -10.62 L -10.62 -10.62 z" transform="translate(1432.78 595.539)" style="fill: #ff0000; stroke: #ff0000; stroke-width: 3.54; stroke-linejoin: miter" /><path d="M -10.62 10.62 L 10.62 10.62 L 10.62 -10.62 L -10.62 -10.62 z" transform="translate(1501.75 626.765)" style="fill: #ff0000; stroke: #ff0000; stroke-width: 3.54; stroke-linejoin: miter" /><path d="M -10.62 10.62 L 10.62 10.62 L 10.62 -10.62 L -10.62 -10.62 z" transform="translate(1570.72 658.511)" style="fill: #ff0000; stroke: #ff0000; stroke-width: 3.54; stroke-linejoin: miter" /><path d="M -10.62 10.62 L 10.62 10.62 L 10.62 -10.62 L -10.62 -10.62 z" transform="translate(1639.69 703.495)" style="fill: #ff0000; stroke: #ff0000; stroke-width: 3.54; stroke-linejoin: miter" /><path d="M -10.62 10.62 L 10.62 10.62 L 10.62 -10.62 L -10.62 -10.62 z" transform="translate(1708.66 737.388)" style="fill: #ff0000; stroke: #ff0000; stroke-width: 3.54; stroke-linejoin: miter" /><path d="M -10.62 10.62 L 10.62 10.62 L 10.62 -10.62 L -10.62 -10.62 z" transform="translate(1777.63 764.288)" style="fill: #ff0000; stroke: #ff0000; stroke-width: 3.54; stroke-linejoin: miter" /><path d="M -10.62 10.62 L 10.62 10.62 L 10.62 -10.62 L -10.62 -10.62 z" transform="translate(1846.6 770.403)" style="fill: #ff0000; stroke: #ff0000; stroke-width: 3.54; stroke-linejoin: miter" /><path d="M -10.62 10.62 L 10.62 10.62 L 10.62 -10.62 L -10.62 -10.62 z" transform="translate(1915.57 769.915)" style="fill: #ff0000; stroke: #ff0000; stroke-width: 3.54; stroke-linejoin: miter" /><path d="M -10.62 10.62 L 10.62 10.62 L 10.62 -10.62 L -10.62 -10.62 z" transform="translate(1984.54 773.493)" style="fill: #ff0000; stroke: #ff0000; stroke-width: 3.54; stroke-linejoin: miter" /><path d="M -10.62 10.62 L 10.62 10.62 L 10.62 -10.62 L -10.62 -10.62 z" transform="translate(2053.51 769.004)" style="fill: #ff0000; stroke: #ff0000; stroke-width: 3.54; stroke-linejoin: miter" /><path d="M -10.62 10.62 L 10.62 10.62 L 10.62 -10.62 L -10.62 -10.62 z" transform="translate(2122.48 765.003)" style="fill: #ff0000; stroke: #ff0000; stroke-width: 3.54; stroke-linejoin: miter" /><path d="M -10.62 10.62 L 10.62 10.62 L 10.62 -10.62 L -10.62 -10.62 z" transform="translate(2191.45 767.508)" style="fill: #ff0000; stroke: #ff0000; stroke-width: 3.54; stroke-linejoin: miter" /><path d="M -10.62 10.62 L 10.62 10.62 L 10.62 -10.62 L -10.62 -10.62 z" transform="translate(2260.42 766.109)" style="fill: #ff0000; stroke: #ff0000; stroke-width: 3.54; stroke-linejoin: miter" /></g></g><g><path d="M 1432.781818 477.40236 L 1501.751515 462.309987 L 1570.721212 441.49292 L 1639.690909 433.39378 L 1708.660606 422.497347 L 1777.630303 412.70682 L 1846.6 417.715927 L 1915.569697 440.71228 L 1984.539394 470.506707 L 2053.509091 501.50462 L 2122.478788 530.615987 L 2191.448485 552.799173 L 2260.418182 571.794747" style="fill: none; stroke: #000000; stroke-width: 5.31; stroke-linecap: square" /><g><path d="M -0 10.62 L 10.62 -10.62 L -10.62 -10.62 z" transform="translate(1432.78 477.402)" style="stroke: #000000; stroke-width: 3.54; stroke-linejoin: miter" /><path d="M -0 10.62 L 10.62 -10.62 L -10.62 -10.62 z" transform="translate(1501.75 462.31)" style="stroke: #000000; stroke-width: 3.54; stroke-linejoin: miter" /><path d="M -0 10.62 L 10.62 -10.62 L -10.62 -10.62 z" transform="translate(1570.72 441.493)" style="stroke: #000000; stroke-width: 3.54; stroke-linejoin: miter" /><path d="M -0 10.62 L 10.62 -10.62 L -10.62 -10.62 z" transform="translate(1639.69 433.394)" style="stroke: #000000; stroke-width: 3.54; stroke-linejoin: miter" /><path d="M -0 10.62 L 10.62 -10.62 L -10.62 -10.62 z" transform="translate(1708.66 422.497)" style="stroke: #000000; stroke-width: 3.54; stroke-linejoin: miter" /><path d="M -0 10.62 L 10.62 -10.62 L -10.62 -10.62 z" transform="translate(1777.63 412.707)" style="stroke: #000000; stroke-width: 3.54; stroke-linejoin: miter" /><path d="M -0 10.62 L 10.62 -10.62 L -10.62 -10.62 z" transform="translate(1846.6 417.716)" style="stroke: #000000; stroke-width: 3.54; stroke-linejoin: miter" /><path d="M -0 10.62 L 10.62 -10.62 L -10.62 -10.62 z" transform="translate(1915.57 440.712)" style="stroke: #000000; stroke-width: 3.54; stroke-linejoin: miter" /><path d="M -0 10.62 L 10.62 -10.62 L -10.62 -10.62 z" transform="translate(1984.54 470.507)" style="stroke: #000000; stroke-width: 3.54; stroke-linejoin: miter" /><path d="M -0 10.62 L 10.62 -10.62 L -10.62 -10.62 z" transform="translate(2053.51 501.505)" style="stroke: #000000; stroke-width: 3.54; stroke-linejoin: miter" /><path d="M -0 10.62 L 10.62 -10.62 L -10.62 -10.62 z" transform="translate(2122.48 530.616)" style="stroke: #000000; stroke-width: 3.54; stroke-linejoin: miter" /><path d="M -0 10.62 L 10.62 -10.62 L -10.62 -10.62 z" transform="translate(2191.45 552.799)" style="stroke: #000000; stroke-width: 3.54; stroke-linejoin: miter" /><path d="M -0 10.62 L 10.62 -10.62 L -10.62 -10.62 z" transform="translate(2260.42 571.795)" style="stroke: #000000; stroke-width: 3.54; stroke-linejoin: miter" /></g></g><g><path d="M 1432.781818 482.996947 L 1501.751515 473.304 L 1570.721212 456.7154 L 1639.690909 442.989147 L 1708.660606 432.092713 L 1777.630303 421.19628 L 1846.6 426.790867 L 1915.569697 447.705513 L 1984.539394 478.898587 L 2053.509091 521.89884 L 2122.478788 566.59048 L 2191.448485 609.297993 L 2260.418182 648.395047" style="fill: none; stroke: #008000; stroke-width: 5.31; stroke-linecap: square" /><g><path d="M -0 15.018948 L 15.018948 0 L 0 -15.018948 L -15.018948 -0 z" transform="translate(1432.78 482.997)" style="fill: #008000; stroke: #008000; stroke-width: 3.54; stroke-linejoin: miter" /><path d="M -0 15.018948 L 15.018948 0 L 0 -15.018948 L -15.018948 -0 z" transform="translate(1501.75 473.304)" style="fill: #008000; stroke: #008000; stroke-width: 3.54; stroke-linejoin: miter" /><path d="M -0 15.018948 L 15.018948 0 L 0 -15.018948 L -15.018948 -0 z" transform="translate(1570.72 456.715)" style="fill: #008000; stroke: #008000; stroke-width: 3.54; stroke-linejoin: miter" /><path d="M -0 15.018948 L 15.018948 0 L 0 -15.018948 L -15.018948 -0 z" transform="translate(1639.69 442.989)" style="fill: #008000; stroke: #008000; stroke-width: 3.54; stroke-linejoin: miter" /><path d="M -0 15.018948 L 15.018948 0 L 0 -15.018948 L -15.018948 -0 z" transform="translate(1708.66 432.093)" style="fill: #008000; stroke: #008000; stroke-width: 3.54; stroke-linejoin: miter" /><path d="M -0 15.018948 L 15.018948 0 L 0 -15.018948 L -15.018948 -0 z" transform="translate(1777.63 421.196)" style="fill: #008000; stroke: #008000; stroke-width: 3.54; stroke-linejoin: miter" /><path d="M -0 15.018948 L 15.018948 0 L 0 -15.018948 L -15.018948 -0 z" transform="translate(1846.6 426.791)" style="fill: #008000; stroke: #008000; stroke-width: 3.54; stroke-linejoin: miter" /><path d="M -0 15.018948 L 15.018948 0 L 0 -15.018948 L -15.018948 -0 z" transform="translate(1915.57 447.706)" style="fill: #008000; stroke: #008000; stroke-width: 3.54; stroke-linejoin: miter" /><path d="M -0 15.018948 L 15.018948 0 L 0 -15.018948 L -15.018948 -0 z" transform="translate(1984.54 478.899)" style="fill: #008000; stroke: #008000; stroke-width: 3.54; stroke-linejoin: miter" /><path d="M -0 15.018948 L 15.018948 0 L 0 -15.018948 L -15.018948 -0 z" transform="translate(2053.51 521.899)" style="fill: #008000; stroke: #008000; stroke-width: 3.54; stroke-linejoin: miter" /><path d="M -0 15.018948 L 15.018948 0 L 0 -15.018948 L -15.018948 -0 z" transform="translate(2122.48 566.59)" style="fill: #008000; stroke: #008000; stroke-width: 3.54; stroke-linejoin: miter" /><path d="M -0 15.018948 L 15.018948 0 L 0 -15.018948 L -15.018948 -0 z" transform="translate(2191.45 609.298)" style="fill: #008000; stroke: #008000; stroke-width: 3.54; stroke-linejoin: miter" /><path d="M -0 15.018948 L 15.018948 0 L 0 -15.018948 L -15.018948 -0 z" transform="translate(2260.42 648.395)" style="fill: #008000; stroke: #008000; stroke-width: 3.54; stroke-linejoin: miter" /></g></g><g><path d="M 1432.781818 522.19158 L 1501.751515 511.002407 L 1570.721212 499.000067 L 1639.690909 470.604287 L 1708.660606 449.59206 L 1777.630303 432.51556 L 1846.6 420.41564 L 1915.569697 410.007107 L 1984.539394 399.110673 L 2053.509091 400.184053 L 2122.478788 405.616007 L 2191.448485 408.9012 L 2260.418182 415.894433" style="fill: none; stroke: #bf00bf; stroke-width: 5.31; stroke-linecap: square" /><g><path d="M 0 -10.62 L -2.384338 -3.28176 L -10.10022 -3.28176 L -3.857941 1.253521 L -6.242279 8.59176 L -0 4.056479 L 6.242279 8.59176 L 3.857941 1.253521 L 10.10022 -3.28176 L 2.384338 -3.28176 z" transform="translate(1432.78 522.192)" style="fill: #bf00bf; stroke: #bf00bf; stroke-width: 3.54; stroke-linejoin: bevel" /><path d="M 0 -10.62 L -2.384338 -3.28176 L -10.10022 -3.28176 L -3.857941 1.253521 L -6.242279 8.59176 L -0 4.056479 L 6.242279 8.59176 L 3.857941 1.253521 L 10.10022 -3.28176 L 2.384338 -3.28176 z" transform="translate(1501.75 511.002)" style="fill: #bf00bf; stroke: #bf00bf; stroke-width: 3.54; stroke-linejoin: bevel" /><path d="M 0 -10.62 L -2.384338 -3.28176 L -10.10022 -3.28176 L -3.857941 1.253521 L -6.242279 8.59176 L -0 4.056479 L 6.242279 8.59176 L 3.857941 1.253521 L 10.10022 -3.28176 L 2.384338 -3.28176 z" transform="translate(1570.72 499)" style="fill: #bf00bf; stroke: #bf00bf; stroke-width: 3.54; stroke-linejoin: bevel" /><path d="M 0 -10.62 L -2.384338 -3.28176 L -10.10022 -3.28176 L -3.857941 1.253521 L -6.242279 8.59176 L -0 4.056479 L 6.242279 8.59176 L 3.857941 1.253521 L 10.10022 -3.28176 L 2.384338 -3.28176 z" transform="translate(1639.69 470.604)" style="fill: #bf00bf; stroke: #bf00bf; stroke-width: 3.54; stroke-linejoin: bevel" /><path d="M 0 -10.62 L -2.384338 -3.28176 L -10.10022 -3.28176 L -3.857941 1.253521 L -6.242279 8.59176 L -0 4.056479 L 6.242279 8.59176 L 3.857941 1.253521 L 10.10022 -3.28176 L 2.384338 -3.28176 z" transform="translate(1708.66 449.592)" style="fill: #bf00bf; stroke: #bf00bf; stroke-width: 3.54; stroke-linejoin: bevel" /><path d="M 0 -10.62 L -2.384338 -3.28176 L -10.10022 -3.28176 L -3.857941 1.253521 L -6.242279 8.59176 L -0 4.056479 L 6.242279 8.59176 L 3.857941 1.253521 L 10.10022 -3.28176 L 2.384338 -3.28176 z" transform="translate(1777.63 432.516)" style="fill: #bf00bf; stroke: #bf00bf; stroke-width: 3.54; stroke-linejoin: bevel" /><path d="M 0 -10.62 L -2.384338 -3.28176 L -10.10022 -3.28176 L -3.857941 1.253521 L -6.242279 8.59176 L -0 4.056479 L 6.242279 8.59176 L 3.857941 1.253521 L 10.10022 -3.28176 L 2.384338 -3.28176 z" transform="translate(1846.6 420.416)" style="fill: #bf00bf; stroke: #bf00bf; stroke-width: 3.54; stroke-linejoin: bevel" /><path d="M 0 -10.62 L -2.384338 -3.28176 L -10.10022 -3.28176 L -3.857941 1.253521 L -6.242279 8.59176 L -0 4.056479 L 6.242279 8.59176 L 3.857941 1.253521 L 10.10022 -3.28176 L 2.384338 -3.28176 z" transform="translate(1915.57 410.007)" style="fill: #bf00bf; stroke: #bf00bf; stroke-width: 3.54; stroke-linejoin: bevel" /><path d="M 0 -10.62 L -2.384338 -3.28176 L -10.10022 -3.28176 L -3.857941 1.253521 L -6.242279 8.59176 L -0 4.056479 L 6.242279 8.59176 L 3.857941 1.253521 L 10.10022 -3.28176 L 2.384338 -3.28176 z" transform="translate(1984.54 399.111)" style="fill: #bf00bf; stroke: #bf00bf; stroke-width: 3.54; stroke-linejoin: bevel" /><path d="M 0 -10.62 L -2.384338 -3.28176 L -10.10022 -3.28176 L -3.857941 1.253521 L -6.242279 8.59176 L -0 4.056479 L 6.242279 8.59176 L 3.857941 1.253521 L 10.10022 -3.28176 L 2.384338 -3.28176 z" transform="translate(2053.51 400.184)" style="fill: #bf00bf; stroke: #bf00bf; stroke-width: 3.54; stroke-linejoin: bevel" /><path d="M 0 -10.62 L -2.384338 -3.28176 L -10.10022 -3.28176 L -3.857941 1.253521 L -6.242279 8.59176 L -0 4.056479 L 6.242279 8.59176 L 3.857941 1.253521 L 10.10022 -3.28176 L 2.384338 -3.28176 z" transform="translate(2122.48 405.616)" style="fill: #bf00bf; stroke: #bf00bf; stroke-width: 3.54; stroke-linejoin: bevel" /><path d="M 0 -10.62 L -2.384338 -3.28176 L -10.10022 -3.28176 L -3.857941 1.253521 L -6.242279 8.59176 L -0 4.056479 L 6.242279 8.59176 L 3.857941 1.253521 L 10.10022 -3.28176 L 2.384338 -3.28176 z" transform="translate(2191.45 408.901)" style="fill: #bf00bf; stroke: #bf00bf; stroke-width: 3.54; stroke-linejoin: bevel" /><path d="M 0 -10.62 L -2.384338 -3.28176 L -10.10022 -3.28176 L -3.857941 1.253521 L -6.242279 8.59176 L -0 4.056479 L 6.242279 8.59176 L 3.857941 1.253521 L 10.10022 -3.28176 L 2.384338 -3.28176 z" transform="translate(2260.42 415.894)" style="fill: #bf00bf; stroke: #bf00bf; stroke-width: 3.54; stroke-linejoin: bevel" /></g></g><g><path d="M 1432.781818 517.41016 L 1501.751515 500.301133 L 1570.721212 483.712533 L 1639.690909 461.30166 L 1708.660606 441.29776 L 1777.630303 423.310513 L 1846.6 411.405753 L 1915.569697 402.298287 L 1984.539394 391.206693 L 2053.509091 380.1151 L 2122.478788 370.194467 L 2191.448485 352.3048 L 2260.418182 339.196553" style="fill: none; stroke: #00bfbf; stroke-width: 5.31; stroke-linecap: square" /><g><path d="M 0 -10.62 L -10.62 10.62 L 10.62 10.62 z" transform="translate(1432.78 517.41)" style="fill: #00bfbf; stroke: #00bfbf; stroke-width: 3.54; stroke-linejoin: miter" /><path d="M 0 -10.62 L -10.62 10.62 L 10.62 10.62 z" transform="translate(1501.75 500.301)" style="fill: #00bfbf; stroke: #00bfbf; stroke-width: 3.54; stroke-linejoin: miter" /><path d="M 0 -10.62 L -10.62 10.62 L 10.62 10.62 z" transform="translate(1570.72 483.713)" style="fill: #00bfbf; stroke: #00bfbf; stroke-width: 3.54; stroke-linejoin: miter" /><path d="M 0 -10.62 L -10.62 10.62 L 10.62 10.62 z" transform="translate(1639.69 461.302)" style="fill: #00bfbf; stroke: #00bfbf; stroke-width: 3.54; stroke-linejoin: miter" /><path d="M 0 -10.62 L -10.62 10.62 L 10.62 10.62 z" transform="translate(1708.66 441.298)" style="fill: #00bfbf; stroke: #00bfbf; stroke-width: 3.54; stroke-linejoin: miter" /><path d="M 0 -10.62 L -10.62 10.62 L 10.62 10.62 z" transform="translate(1777.63 423.311)" style="fill: #00bfbf; stroke: #00bfbf; stroke-width: 3.54; stroke-linejoin: miter" /><path d="M 0 -10.62 L -10.62 10.62 L 10.62 10.62 z" transform="translate(1846.6 411.406)" style="fill: #00bfbf; stroke: #00bfbf; stroke-width: 3.54; stroke-linejoin: miter" /><path d="M 0 -10.62 L -10.62 10.62 L 10.62 10.62 z" transform="translate(1915.57 402.298)" style="fill: #00bfbf; stroke: #00bfbf; stroke-width: 3.54; stroke-linejoin: miter" /><path d="M 0 -10.62 L -10.62 10.62 L 10.62 10.62 z" transform="translate(1984.54 391.207)" style="fill: #00bfbf; stroke: #00bfbf; stroke-width: 3.54; stroke-linejoin: miter" /><path d="M 0 -10.62 L -10.62 10.62 L 10.62 10.62 z" transform="translate(2053.51 380.115)" style="fill: #00bfbf; stroke: #00bfbf; stroke-width: 3.54; stroke-linejoin: miter" /><path d="M 0 -10.62 L -10.62 10.62 L 10.62 10.62 z" transform="translate(2122.48 370.194)" style="fill: #00bfbf; stroke: #00bfbf; stroke-width: 3.54; stroke-linejoin: miter" /><path d="M 0 -10.62 L -10.62 10.62 L 10.62 10.62 z" transform="translate(2191.45 352.305)" style="fill: #00bfbf; stroke: #00bfbf; stroke-width: 3.54; stroke-linejoin: miter" /><path d="M 0 -10.62 L -10.62 10.62 L 10.62 10.62 z" transform="translate(2260.42 339.197)" style="fill: #00bfbf; stroke: #00bfbf; stroke-width: 3.54; stroke-linejoin: miter" /></g></g><g><path d="M 1391.4 1078.3 L 1391.4 102.5" style="fill: none; stroke: #000000; stroke-width: 2.832; stroke-linejoin: miter; stroke-linecap: square" /></g><g><path d="M 2301.8 1078.3 L 2301.8 102.5" style="fill: none; stroke: #000000; stroke-width: 2.832; stroke-linejoin: miter; stroke-linecap: square" /></g><g><path d="M 1391.4 1078.3 L 2301.8 1078.3" style="fill: none; stroke: #000000; stroke-width: 2.832; stroke-linejoin: miter; stroke-linecap: square" /></g><g><path d="M 1391.4 102.5 L 2301.8 102.5" style="fill: none; stroke: #000000; stroke-width: 2.832; stroke-linejoin: miter; stroke-linecap: square" /></g><g><text style="font-size: 72px; font-family: 'DejaVu Sans', 'Liberation Sans', sans-serif; text-anchor: middle" x="1846.6" y="81.26">Neuron 2</text></g></g></g></svg>
</body></html>
